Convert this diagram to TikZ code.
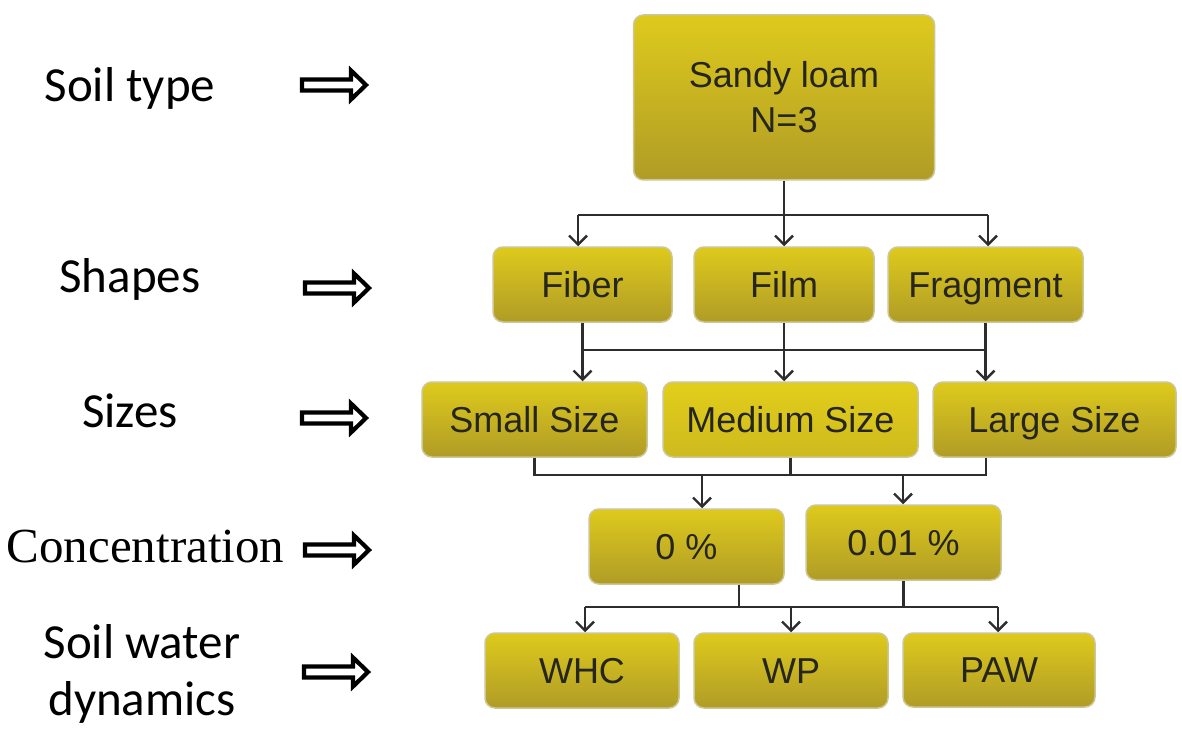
\documentclass[tikz,border=0pt]{standalone}
\usepackage{fontspec}
\setmainfont{Liberation Sans}
\newfontfamily\calibfont{Carlito}
\newfontfamily\timesfont{Liberation Serif}
\usetikzlibrary{arrows.meta}

\definecolor{boxtop}{RGB}{222,202,28}
\definecolor{boxbot}{RGB}{176,156,38}
\definecolor{medtop}{RGB}{226,206,26}
\definecolor{medbot}{RGB}{206,186,30}
\definecolor{boxedge}{RGB}{205,198,150}
\definecolor{txtcol}{RGB}{38,38,30}
\definecolor{lncol}{RGB}{45,45,45}

\tikzset{
  box/.style={draw=boxedge, line width=1.5pt, rounded corners=10pt,
    top color=boxtop, bottom color=boxbot, inner sep=0pt, text=txtcol,
    font=\fontsize{36}{43}\selectfont, text height=25.8pt, text depth=0pt},
  medbox/.style={box, top color=medtop, bottom color=medbot},
  boxtext/.style={text=txtcol, font=\fontsize{36}{43}\selectfont, anchor=base},
  conn/.style={draw=lncol, line width=2.4pt},
  arr/.style={conn, -{Straight Barb[length=9pt,width=18pt]}},
  lab/.style={font=\calibfont\fontsize{49}{57}\selectfont, text=black, anchor=base, inner sep=0pt},
  blockarr/.pic={\draw[line width=4.2pt, fill=white, line join=miter, miter limit=10]
     (0,-5.5) -- (49,-5.5) -- (49,-14.5) -- (64,0) -- (49,14.5) -- (49,5.5) -- (0,5.5) -- cycle;}
}

\begin{document}
\begin{tikzpicture}[x=1pt,y=-1pt]
\fill[white] (0,0) rectangle (1182,730);
\useasboundingbox (0,0) rectangle (1182,730);

% left labels
\node[lab] (l1) at (130,102) {Soil type};
\node[lab] (l2) at (130,292) {Shapes};
\node[lab] (l3) at (130,427) {Sizes};
\node[lab, font=\timesfont\fontsize{49}{57}\selectfont] (l4) at (145.5,562) {Concentration};
\node[lab] (l5a) at (142,658) {Soil water};
\node[lab] (l5b) at (142,715) {dynamics};

% block arrows
\pic at (302,85) {blockarr};
\pic at (305,288) {blockarr};
\pic at (302,418) {blockarr};
\pic at (305,550) {blockarr};
\pic at (304,672) {blockarr};

% boxes
\node[box, minimum width=301pt, minimum height=165pt] (soil) at (784,97.5) {};
\node[boxtext] (soilt1) at (784,88) {Sandy loam};
\node[boxtext] (soilt2) at (784,133) {N=3};

\node[box, minimum width=179pt, minimum height=75pt] (fiber) at (582.5,284.5) {Fiber};
\node[box, minimum width=180pt, minimum height=75pt] (film) at (784,284.5) {Film};
\node[box, minimum width=195pt, minimum height=75pt] (fragment) at (985.5,284.5) {Fragment};

\node[box, minimum width=225pt, minimum height=75pt] (small) at (534.5,419.5) {Small Size};
\node[medbox, minimum width=255pt, minimum height=75pt] (medium) at (790.5,419.5) {Medium Size};
\node[box, minimum width=243pt, minimum height=75pt] (large) at (1054.5,419.5) {Large Size};

\node[box, minimum width=195pt, minimum height=75pt] (p0) at (686.5,546.5) {0 \%};
\node[box, minimum width=195pt, minimum height=75pt] (p1) at (903.5,542.5) {0.01 \%};

\node[box, minimum width=194pt, minimum height=75pt] (whc) at (582,670.5) {WHC};
\node[box, minimum width=194pt, minimum height=75pt] (wp) at (791,670.5) {WP};
\node[box, minimum width=192pt, minimum height=74pt] (paw) at (999,670) {PAW};

% row 1 -> row 2
\coordinate (a1) at (578,215);
\coordinate (a3) at (988,215);
\draw[conn] (a1) -- (a3);
\draw[conn] (soil.south) -- (soil.south |- a1);
\draw[arr] (a1) -- (a1 |- fiber.north);
\draw[arr] (soil.south |- a1) -- (film.north);
\draw[arr] (a3) -- (a3 |- fragment.north);

% row 2 -> row 3
\coordinate (b1) at (582,350);
\draw[conn] (fiber.south |- b1) -- (fragment.south |- b1);
\draw[arr] (fiber.south) -- (fiber.south |- small.north);
\draw[arr] (film.south) -- (film.south |- medium.north);
\draw[arr] (fragment.south) -- (fragment.south |- large.north);

% row 3 -> row 4
\coordinate (c3) at (986,475);
\coordinate (c4) at (702,475);
\coordinate (c5) at (903,475);
\draw[conn] (small.south) |- (c3) -- (c3 |- large.south);
\draw[conn] (medium.south) -- (medium.south |- c3);
\draw[arr] (c4) -- (c4 |- p0.north);
\draw[arr] (c5) -- (c5 |- p1.north);

% row 4 -> row 5
\coordinate (d0) at (585,607);
\coordinate (d1) at (739,607);
\coordinate (d3) at (998,607);
\draw[conn] (d0) -- (d3);
\draw[conn] (d1 |- p0.south) -- (d1);
\draw[conn] (p1.south) -- (p1.south |- d1);
\draw[arr] (d0) -- (d0 |- whc.north);
\draw[arr] (wp.north |- d0) -- (wp.north);
\draw[arr] (d3) -- (d3 |- paw.north);
\end{tikzpicture}
\end{document}
